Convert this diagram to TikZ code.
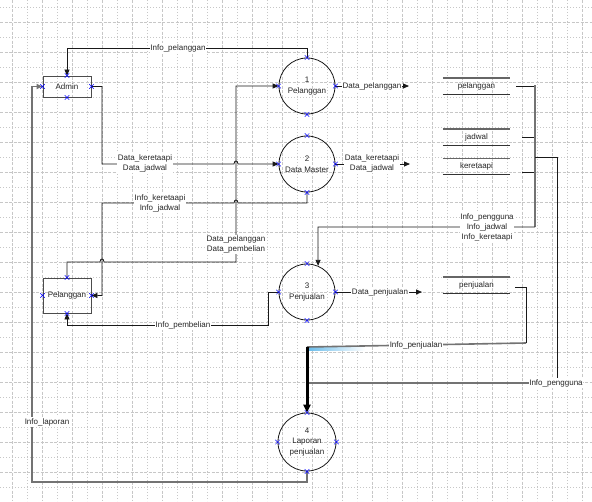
\documentclass[tikz,border=0pt]{standalone}
\usepackage{fontspec}
\setmainfont{Liberation Sans}
\usetikzlibrary{arrows.meta,shapes.misc}

\tikzset{
  huruf/.style={font=\fontsize{8}{10.5}\selectfont, text=black!85},
  proses/.style={circle, draw=black!90, line width=0.8pt, minimum size=56pt, inner sep=0pt, align=center, huruf},
  entitas/.style={rectangle, draw=black!70, line width=0.9pt, minimum width=48pt, inner sep=0pt, huruf},
  simpan/.style={minimum width=67pt, minimum height=16pt, inner sep=0pt, huruf},
  lbl/.style={fill=white, inner sep=0.8pt, align=center, font=\fontsize{8}{10}\selectfont, text=black!85},
  garis/.style={draw=black!90, line width=0.8pt},
  alir/.style={garis, -{Triangle[length=6pt,width=5pt]}},
  tebal/.style={draw=black!55, line width=1.6pt},
  titik/.style={cross out, draw=blue, minimum size=4pt, inner sep=0pt, line width=0.5pt},
  gridputus/.style={draw=black!22, line width=0.8pt, dash pattern=on 3pt off 1.5pt},
  gridtitik/.style={draw=black!22, line width=0.8pt, dash pattern=on 1pt off 2pt}
}
\definecolor{sorot}{RGB}{110,190,235}

\begin{document}
\begin{tikzpicture}[x=1pt,y=-1pt]
    % Latar dan grid
    \useasboundingbox (0,0) rectangle (592,501);
    \fill[white] (0,0) rectangle (592,501);
    \foreach \k in {0,...,38} {
      \pgfmathsetmacro{\gx}{12+15*\k}
      \ifodd\k \draw[gridtitik] (\gx,0) -- (\gx,501); \else \draw[gridputus] (\gx,0) -- (\gx,501); \fi
    }
    \foreach \k in {0,...,32} {
      \pgfmathsetmacro{\gy}{7.7+15*\k}
      \ifodd\k \draw[gridputus] (0,\gy) -- (592,\gy); \else \draw[gridtitik] (0,\gy) -- (592,\gy); \fi
    }

    % Entitas luar
    \node[entitas, minimum height=21pt] (admin) at (67,86.5) {Admin};
    \node[entitas, minimum height=35pt] (plg) at (67,295.5) {Pelanggan};

    % Proses
    \node[proses] (p1) at (307,86) {1\\Pelanggan};
    \node[proses] (p2) at (307,164) {2\\Data Master};
    \node[proses] (p3) at (307,292) {3\\Penjualan};
    \node[proses, minimum size=58pt] (p4) at (307,442) {4\\Laporan\\penjualan};

    % Data store
    \node[simpan] (s_plg) at (476.5,86) {pelanggan};
    \node[simpan] (s_jdw) at (476.5,137) {jadwal};
    \node[simpan] (s_krt) at (476.5,166.5) {keretaapi};
    \node[simpan] (s_pjl) at (476.5,285) {penjualan};
    \foreach \s in {s_plg,s_jdw,s_krt,s_pjl} {
      \draw[black!60, line width=1.6pt] (\s.north west) -- (\s.north east);
      \draw[black!80, line width=0.9pt] (\s.south west) -- (\s.south east);
    }

    % Alur Admin dan Pelanggan
    \draw[alir] (p1.north) -- (307,48) -- (67,48) -- (admin.north);
    \draw[alir] (admin.east) -- (102,86.5) -- (102,164) -- (234,164)
      .. controls (234,160) and (238,160) .. (238,164) -- (p2.west);
    \draw[alir] (p2.south) -- (307,203) -- (238,203)
      .. controls (238,199) and (234,199) .. (234,203) -- (102,203) -- (102,295.5) -- (plg.east);
    \draw[alir] (plg.north) -- (67,262) -- (100,262)
      .. controls (100,258) and (104,258) .. (104,262) -- (236,262) -- (236,86) -- (p1.west);
    \draw[alir] (p3.west) -- (268,292) -- (268,325) -- (67,325) -- (plg.south);
    \draw[tebal, -{Triangle[length=6pt,width=5pt]}] (p4.south) -- (307,482) -- (32,482) -- (32,86.5) -- (admin.west);

    % Alur ke data store
    \coordinate (t1) at (409,86);
    \coordinate (t2) at (410,164);
    \coordinate (t3) at (422,292);
    \draw[alir] (p1.east) -- (t1);
    \draw[alir] (p2.east) -- (t2);
    \draw[alir] (p3.east) -- (t3);

    % Alur dari data store
    \draw[garis] ([xshift=6pt]s_plg.east) -- (535,86);
    \draw[garis] ([xshift=12pt]s_jdw.east) -- (535,137);
    \draw[garis] ([xshift=12pt,yshift=-5.5pt]s_krt.east) -- (535,172);
    \draw[tebal] (535,85) -- (535,227);
    \draw[alir] (535,227) -- (318,227) -- (p3.67);
    \draw[garis] (535,157) -- (557,157) -- (557,383);
    \draw[tebal] (557,383) -- (308,383);
    \shade[left color=sorot, right color=white] (309,346) rectangle (365,350);
    \draw[garis] ([xshift=5pt,yshift=-2pt]s_pjl.east) -- (526,287) -- (526,343);
    \draw[tebal] (526,343) -- (307,347);
    \draw[black, line width=3pt, -{Triangle[length=8pt,width=7pt]}] (307,347) -- (p4.north);

    % Label alur
    \node[lbl] (l1) at (178,48) {Info\_pelanggan};
    \node[lbl] (l2) at (145,163) {Data\_keretaapi\\Data\_jadwal};
    \node[lbl] (l3) at (160,203) {Info\_keretaapi\\Info\_jadwal};
    \node[lbl] (l4) at (236,244.5) {Data\_pelanggan\\Data\_pembelian};
    \node[lbl] (l5) at (183,325) {Info\_pembelian};
    \node[lbl] (l6) at (47,422) {Info\_laporan};
    \node[lbl] (l7) at (372,86) {Data\_pelanggan};
    \node[lbl] (l8) at (372,163) {Data\_keretaapi\\Data\_jadwal};
    \node[lbl] (l9) at (380,292) {Data\_penjualan};
    \node[lbl] (l10) at (487,227) {Info\_pengguna\\Info\_jadwal\\Info\_keretaapi};
    \node[lbl] (l11) at (416,345) {Info\_penjualan};
    \node[lbl] (l12) at (556,383) {Info\_pengguna};

    % Titik sambung
    \foreach \n in {admin,plg,p1,p2,p3,p4}
      \foreach \a in {north,south,east,west}
        \node[titik] at (\n.\a) {};
\end{tikzpicture}
\end{document}
